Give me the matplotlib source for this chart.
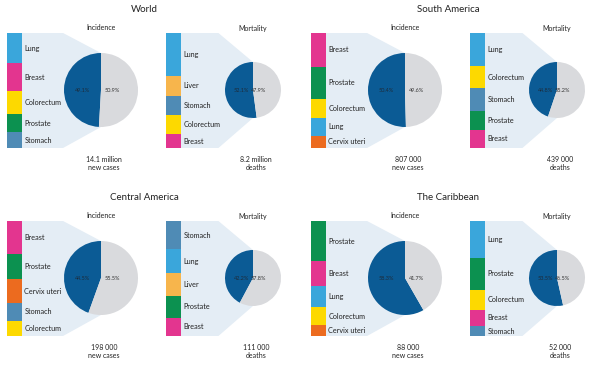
import matplotlib.pyplot as plt

plt.rcParams['font.family'] = ['Lato', 'DejaVu Sans']

W, H = 590, 366

# site colours
site_colors = {
    'Lung': '#3aa6db',
    'Breast': '#e3358f',
    'Colorectum': '#fdd900',
    'Prostate': '#0c9150',
    'Stomach': '#4f8bb5',
    'Liver': '#f7b54c',
    'Cervix uteri': '#ec6b1f',
}
dark_blue = '#0b5b95'
pie_grey = '#d9dadd'
band_color = '#e4edf5'

regions = ['World', 'South America', 'Central America', 'The Caribbean']

# top five sites (share of all cases, %) for each region
world_inc_sites = ['Lung', 'Breast', 'Colorectum', 'Prostate', 'Stomach']
world_inc_vals = [13.0, 11.9, 9.7, 7.8, 6.7]
world_mort_sites = ['Lung', 'Liver', 'Stomach', 'Colorectum', 'Breast']
world_mort_vals = [19.4, 9.1, 8.8, 8.5, 6.3]

sam_inc_sites = ['Breast', 'Prostate', 'Colorectum', 'Lung', 'Cervix uteri']
sam_inc_vals = [14.9, 14.0, 8.3, 7.9, 5.3]
sam_mort_sites = ['Lung', 'Colorectum', 'Stomach', 'Prostate', 'Breast']
sam_mort_vals = [13.0, 8.6, 8.6, 7.5, 7.1]

cam_inc_sites = ['Breast', 'Prostate', 'Cervix uteri', 'Stomach', 'Colorectum']
cam_inc_vals = [12.8, 9.7, 9.2, 7.0, 5.8]
cam_mort_sites = ['Stomach', 'Lung', 'Liver', 'Prostate', 'Breast']
cam_mort_vals = [10.4, 8.8, 8.3, 8.0, 6.7]

car_inc_sites = ['Prostate', 'Breast', 'Lung', 'Colorectum', 'Cervix uteri']
car_inc_vals = [20.5, 12.6, 10.6, 9.2, 5.4]
car_mort_sites = ['Lung', 'Prostate', 'Colorectum', 'Breast', 'Stomach']
car_mort_vals = [17.1, 14.9, 9.2, 7.7, 4.6]

# share of the top five vs. the rest (pie)
top5_share = {
    ('World', 'inc'): 49.1, ('World', 'mort'): 52.1,
    ('South America', 'inc'): 50.4, ('South America', 'mort'): 44.8,
    ('Central America', 'inc'): 44.5, ('Central America', 'mort'): 42.2,
    ('The Caribbean', 'inc'): 58.3, ('The Caribbean', 'mort'): 53.5,
}
totals = {
    ('World', 'inc'): '14.1 million', ('World', 'mort'): '8.2 million',
    ('South America', 'inc'): '807 000', ('South America', 'mort'): '439 000',
    ('Central America', 'inc'): '198 000', ('Central America', 'mort'): '111 000',
    ('The Caribbean', 'inc'): '88 000', ('The Caribbean', 'mort'): '52 000',
}
sites = {
    ('World', 'inc'): (world_inc_sites, world_inc_vals),
    ('World', 'mort'): (world_mort_sites, world_mort_vals),
    ('South America', 'inc'): (sam_inc_sites, sam_inc_vals),
    ('South America', 'mort'): (sam_mort_sites, sam_mort_vals),
    ('Central America', 'inc'): (cam_inc_sites, cam_inc_vals),
    ('Central America', 'mort'): (cam_mort_sites, cam_mort_vals),
    ('The Caribbean', 'inc'): (car_inc_sites, car_inc_vals),
    ('The Caribbean', 'mort'): (car_mort_sites, car_mort_vals),
}

# layout (pixels, y measured from the top)
origins = {'World': (0, 0), 'South America': (304, 0),
           'Central America': (0, 188), 'The Caribbean': (304, 188)}
panel = {
    'inc': dict(bx=7, pcx=101, r=37, head='Incidence', foot='new cases',
                dl=-11, gl=4),
    'mort': dict(bx=166, pcx=253, r=28, head='Mortality', foot='deaths',
                 dl=-4, gl=-2),
}
bar_w = 15
bar_top, bar_bot = 33, 148
pie_cy = 90

fig = plt.figure(figsize=(W / 100, H / 100), dpi=100)
ax = fig.add_axes([0, 0, 1, 1])


def Y(y):
    return H - y


for reg in regions:
    ox, oy = origins[reg]
    ax.text(ox + 144, Y(oy + 10), reg, ha='center', va='center',
            fontsize=7, color='#222222')
    for kind in ['inc', 'mort']:
        p = panel[kind]
        names, vals = sites[(reg, kind)]
        bx = ox + p['bx']
        pcx = ox + p['pcx']
        pcy = oy + pie_cy
        r = p['r']
        top = oy + bar_top
        bot = oy + bar_bot
        right = bx + bar_w
        corner = right + 0.52 * (pcx - right)

        # connecting band
        xs = [right, corner, pcx, pcx, corner, right]
        ys = [top, top, pcy - r, pcy + r, bot, bot]
        ax.fill(xs, [Y(v) for v in ys], color=band_color, lw=0, zorder=1)

        # stacked bar of the top five sites
        tot = sum(vals)
        y = top
        for name, v in zip(names, vals):
            h = v / tot * (bot - top)
            ax.bar(bx + bar_w / 2, h, bottom=Y(y + h), width=bar_w,
                   color=site_colors[name], lw=0, zorder=2)
            ax.text(right + 2.5, Y(y + h / 2), name, ha='left', va='center',
                    fontsize=5.2, color='#222222', zorder=4)
            y += h

        # pie
        share = top5_share[(reg, kind)]
        ax.pie([share, 100 - share], colors=[dark_blue, pie_grey],
               startangle=90, counterclock=True, center=(pcx, Y(pcy)),
               radius=r, wedgeprops=dict(lw=0, zorder=3))
        ax.text(pcx + p['dl'], Y(pcy), f'{share:.1f}%', ha='right',
                va='center', fontsize=4, color='#1d2b3a', zorder=4)
        ax.text(pcx + p['gl'], Y(pcy), f'{100 - share:.1f}%', ha='left',
                va='center', fontsize=4, color='#333333', zorder=4)

        ax.text(pcx, Y(oy + 28), p['head'], ha='center', va='center',
                fontsize=5, color='#222222')
        ax.text(pcx + 3, Y(oy + 160), totals[(reg, kind)], ha='center',
                va='center', fontsize=5, color='#222222')
        ax.text(pcx + 3, Y(oy + 168), p['foot'], ha='center',
                va='center', fontsize=5, color='#222222')

ax.set_xlim(0, W)
ax.set_ylim(0, H)
ax.set_aspect('auto')
ax.axis('off')

fig.savefig('out.png', dpi=100, facecolor='white')
